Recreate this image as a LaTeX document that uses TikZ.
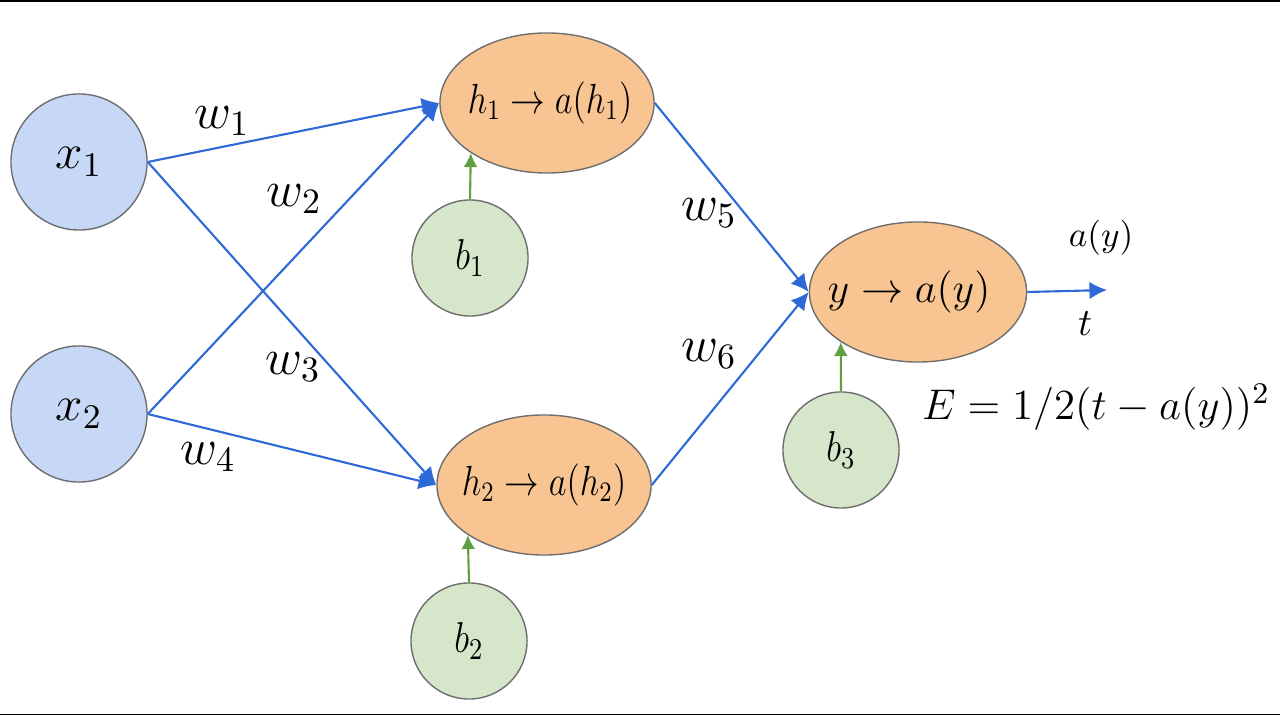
\documentclass[tikz,border=0pt]{standalone}
\usepackage{fix-cm}
\usetikzlibrary{arrows.meta,shapes.geometric}
\definecolor{inblue}{RGB}{198,216,245}
\definecolor{hidorange}{RGB}{248,197,146}
\definecolor{biasgreen}{RGB}{213,230,203}
\definecolor{wireblue}{RGB}{45,105,215}
\definecolor{biasarrow}{RGB}{95,160,65}
\definecolor{rim}{RGB}{110,110,110}
\newcommand{\fs}[1]{\fontsize{#1}{#1}\selectfont}
\newcommand{\narrow}[1]{\scalebox{0.82}[1]{#1}}
\tikzset{
  innode/.style={circle,draw=rim,fill=inblue,minimum size=1.36cm,inner sep=0pt,font=\fs{14}},
  hidnode/.style={ellipse,draw=rim,fill=hidorange,minimum width=2.14cm,minimum height=1.40cm,inner sep=0pt},
  biasnode/.style={circle,draw=rim,fill=biasgreen,minimum size=1.16cm,inner sep=0pt,font=\fs{12.3}},
  wire/.style={draw=wireblue,line width=0.6pt,-{Latex[length=5pt,width=5pt]}},
  biaswire/.style={draw=biasarrow,line width=0.6pt,-{Latex[length=4pt,width=4pt]}},
  wlabel/.style={font=\fs{14.5}}
}
\begin{document}
\begin{tikzpicture}[x=0.01cm,y=-0.01cm]
  \useasboundingbox (0,0) rectangle (1280,716);
  \draw[line width=0.5pt] (0,0.8) -- (1280,0.8);
  \draw[line width=0.5pt] (0,714.5) -- (1280,714.5);
  % inputs
  \node[innode] (x1) at (79,162) {$x_1$};
  \node[innode] (x2) at (79,414) {$x_2$};
  % hidden layer
  \node[hidnode] (h1) at (547,103) {};
  \node[font=\fs{12}] (h1t) at (550,103) {\narrow{$h_1\to a(h_1)$}};
  \node[hidnode] (h2) at (544,485) {};
  \node[font=\fs{12}] (h2t) at (544,485) {\narrow{$h_2\to a(h_2)$}};
  \node[biasnode] (b1) at (470,258) {\narrow{$b_1$}};
  \node[biasnode] (b2) at (469,641) {\narrow{$b_2$}};
  % output
  \node[hidnode,minimum width=2.17cm] (y) at (918,292) {};
  \node[font=\fs{12}] (yt) at (909,292) {$y\to a(y)$};
  \node[biasnode] (b3) at (841,450) {\narrow{$b_3$}};
  \coordinate (out) at (1107,290);
  % weights
  \draw[wire] (x1.east) -- (h1.west);
  \draw[wire] (x1.east) -- (h2.west);
  \draw[wire] (x2.east) -- (h1.west);
  \draw[wire] (x2.east) -- (h2.west);
  \draw[wire] (h1.east) -- (y.west);
  \draw[wire] (h2.east) -- (y.west);
  \draw[wire] (y.east) -- (out);
  \draw[biaswire] (b1.north) -- (h1.south west);
  \draw[biaswire] (b2.north) -- (h2.south west);
  \draw[biaswire] (b3.north) -- (y.south west);
  \node[wlabel] (w1) at (222,121) {$w_1$};
  \node[wlabel] (w2) at (294,199) {$w_2$};
  \node[wlabel] (w3) at (293,367) {$w_3$};
  \node[wlabel] (w4) at (208,457) {$w_4$};
  \node[wlabel] (w5) at (709,213) {$w_5$};
  \node[wlabel] (w6) at (709,354) {$w_6$};
  \node[font=\fs{10}] (ay) at (1101,238) {$a(y)$};
  \node[font=\fs{11}] (t) at (1085,324) {$t$};
  \node[font=\fs{12.2}] (err) at (1096,407) {$E=1/2(t-a(y))^2$};
\end{tikzpicture}
\end{document}
